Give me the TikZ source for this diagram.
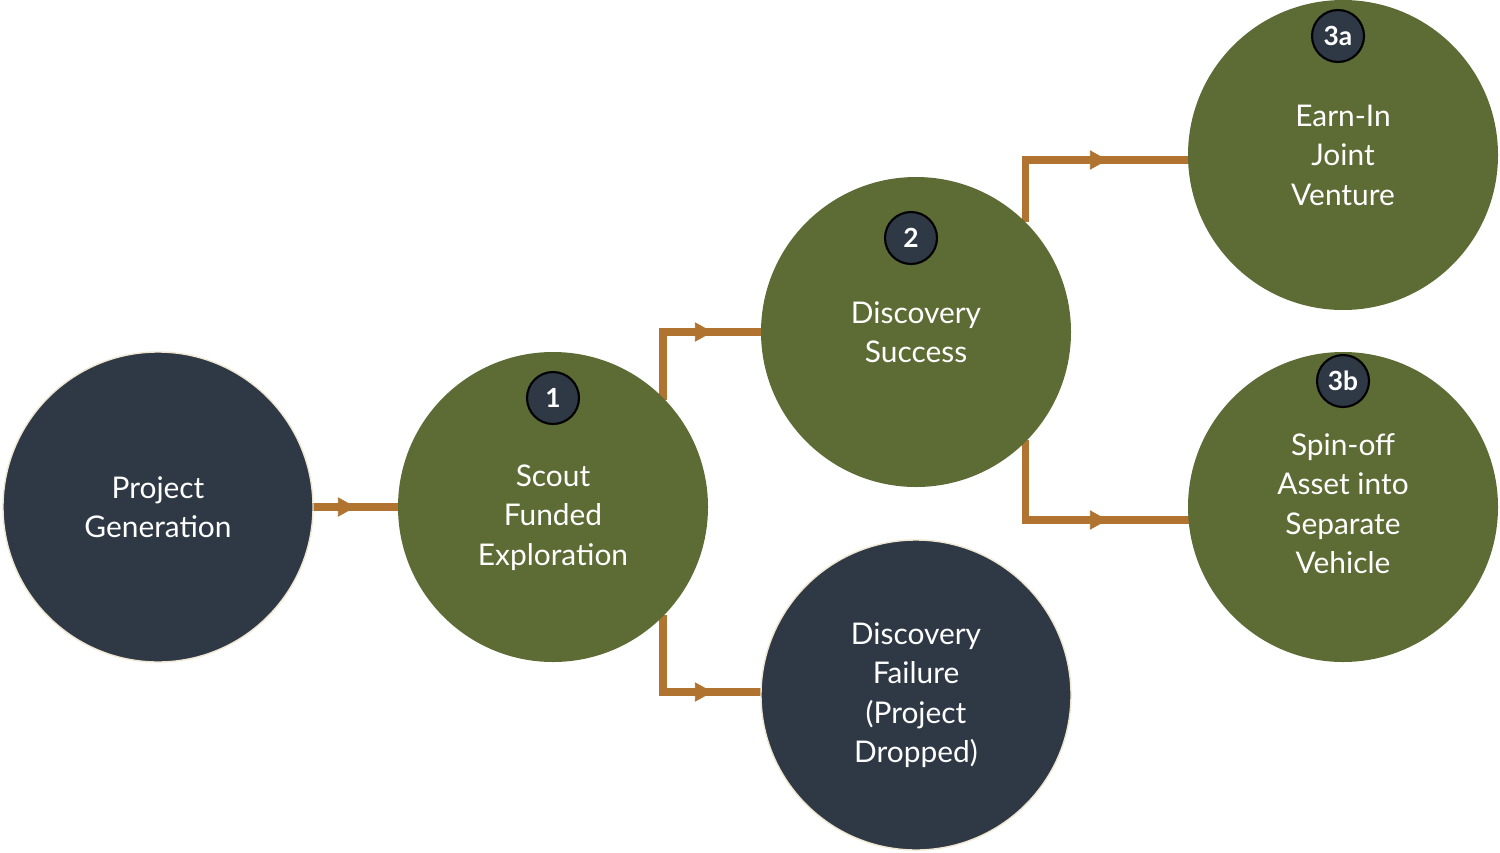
\documentclass[tikz,border=0pt]{standalone}
\usepackage{fontspec}
\setmainfont{Lato}
\usetikzlibrary{arrows.meta,decorations.markings,calc}
\definecolor{dk}{HTML}{2E3945}
\definecolor{gr}{HTML}{5D6B35}
\definecolor{or}{HTML}{B07430}
\definecolor{cr}{HTML}{EFE6D2}
\tikzset{
 x=0.02cm,y=-0.02cm,
 big/.style={circle,minimum size=310*0.02cm,inner sep=0pt,text=white,align=center,font=\fontsize{17}{22.5}\selectfont},
 darkc/.style={big,fill=dk,draw=cr,line width=0.8pt},
 greenc/.style={big,fill=gr},
 badge/.style={circle,minimum size=52*0.02cm,inner sep=0pt,fill=dk,draw=black,line width=1.2pt,text=white,font=\bfseries\fontsize{15}{18}\selectfont},
 conn/.style={draw=or,line width=4pt},
 arr/.style={decoration={markings,mark=at position 0.5 with {\arrow[or]{Triangle[length=10pt,width=11pt]}}},postaction={decorate}},
}
\begin{document}
\begin{tikzpicture}
\useasboundingbox (0,0) rectangle (1500,852);
\path (158,507) coordinate (cpg) (553,507) coordinate (csc) (916,332) coordinate (csu)
 (916,695) coordinate (cfa) (1343,155) coordinate (cea) (1343,507) coordinate (csp);
% connectors (behind)
\coordinate (pgE) at (313,507);
\coordinate (scW) at (398,507);
\draw[conn] (pgE) -- (scW);
\path[arr] (pgE) -- (scW);
\coordinate (a1) at (663,400); \coordinate (b1) at (762,332);
\draw[conn] (a1) |- coordinate[pos=0.5](k1) (b1); \path[arr] (k1) -- (b1);
\coordinate (a2) at (663,615); \coordinate (b2) at (762,692);
\draw[conn] (a2) |- coordinate[pos=0.5](k2) (b2); \path[arr] (k2) -- (b2);
\coordinate (a3) at (1025,222); \coordinate (b3) at (1190,160);
\draw[conn] (a3) |- coordinate[pos=0.5](k3) (b3); \path[arr] (k3) -- (b3);
\coordinate (a4) at (1025,440); \coordinate (b4) at (1190,520);
\draw[conn] (a4) |- coordinate[pos=0.5](k4) (b4); \path[arr] (k4) -- (b4);
% circles
\node[darkc] (pg) at (cpg) {Project\\Generation};
\node[greenc] (sc) at (csc) {\\[2pt]Scout\\Funded\\Exploration};
\node[greenc] (su) at (csu) {Discovery\\Success};
\node[darkc] (fa) at (cfa) {Discovery\\Failure\\(Project\\Dropped)};
\node[greenc] (ea) at (cea) {Earn-In\\Joint\\Venture};
\node[greenc] (sp) at (csp) {\\[-14pt]Spin-off\\Asset into\\Separate\\Vehicle};
% badges
\node[badge] (n1) at (553,398) {1};
\node[badge] (n2) at (911,238) {2};
\node[badge] (n3a) at (1338,36) {3a};
\node[badge] (n3b) at (1343,381) {3b};
\end{tikzpicture}
\end{document}
